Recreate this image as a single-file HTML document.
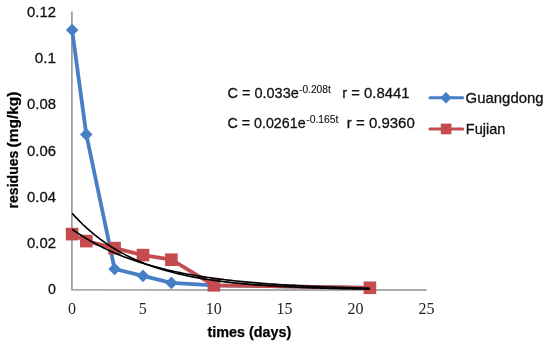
<!DOCTYPE html>
<html><head><meta charset="utf-8"><title>Residues chart</title>
<style>html,body{margin:0;padding:0;background:#fff}svg{display:block}text{font-family:"Liberation Sans","DejaVu Sans",sans-serif;fill:#111;stroke:#111;stroke-width:.3px}.ser{font-family:"Liberation Serif","DejaVu Serif",serif;fill:#222;stroke:none}.sup{stroke-width:.12px}.b{font-weight:bold;fill:#000;stroke:#000;stroke-width:.25px}</style></head><body>
<svg width="550" height="346" viewBox="0 0 550 346">
<rect width="550" height="346" fill="#fff"/>
<polyline points="71.9,11.5 71.9,289.7 426.6,290.05" fill="none" stroke="#8e8e8e" stroke-width="1.5" stroke-linejoin="round"/>
<polyline points="72.1,30.0 86.3,134.4 114.6,269.0 143.0,275.9 171.4,282.9 213.9,285.3 369.9,287.8" fill="none" stroke="#477fc4" stroke-width="3.8" stroke-linejoin="round" stroke-linecap="round"/>
<polygon points="72.1,23.7 78.4,30.0 72.1,36.3 65.8,30.0" fill="#477fc4"/>
<polygon points="86.3,128.1 92.6,134.4 86.3,140.7 80.0,134.4" fill="#477fc4"/>
<polygon points="114.6,262.7 120.9,269.0 114.6,275.3 108.3,269.0" fill="#477fc4"/>
<polygon points="143.0,269.6 149.3,275.9 143.0,282.2 136.7,275.9" fill="#477fc4"/>
<polygon points="171.4,276.6 177.7,282.9 171.4,289.2 165.1,282.9" fill="#477fc4"/>
<polygon points="213.9,279.0 220.2,285.3 213.9,291.6 207.6,285.3" fill="#477fc4"/>
<polygon points="369.9,281.5 376.2,287.8 369.9,294.1 363.6,287.8" fill="#477fc4"/>
<polyline points="72.1,234.1 86.3,241.1 114.6,248.1 143.0,255.1 171.4,259.7 213.9,285.3 369.9,287.8" fill="none" stroke="#c54c4e" stroke-width="3.8" stroke-linejoin="round" stroke-linecap="round"/>
<rect x="65.8" y="227.8" width="12.6" height="12.6" fill="#c54c4e"/>
<rect x="80.0" y="234.8" width="12.6" height="12.6" fill="#c54c4e"/>
<rect x="108.3" y="241.8" width="12.6" height="12.6" fill="#c54c4e"/>
<rect x="136.7" y="248.8" width="12.6" height="12.6" fill="#c54c4e"/>
<rect x="165.1" y="253.4" width="12.6" height="12.6" fill="#c54c4e"/>
<rect x="207.6" y="279.0" width="12.6" height="12.6" fill="#c54c4e"/>
<rect x="363.6" y="281.5" width="12.6" height="12.6" fill="#c54c4e"/>
<polyline points="72.1,213.24 74.9,216.36 77.8,219.36 80.6,222.23 83.4,224.99 86.3,227.63 89.1,230.17 92.0,232.60 94.8,234.94 97.6,237.17 100.5,239.32 103.3,241.38 106.1,243.36 109.0,245.26 111.8,247.08 114.6,248.82 117.5,250.50 120.3,252.10 123.1,253.64 126.0,255.12 128.8,256.54 131.7,257.90 134.5,259.20 137.3,260.46 140.2,261.66 143.0,262.81 145.8,263.91 148.7,264.98 151.5,265.99 154.3,266.97 157.2,267.91 160.0,268.80 162.9,269.67 165.7,270.49 168.5,271.29 171.4,272.05 174.2,272.78 177.0,273.48 179.9,274.15 182.7,274.79 185.5,275.41 188.4,276.01 191.2,276.58 194.0,277.12 196.9,277.65 199.7,278.15 202.6,278.63 205.4,279.10 208.2,279.54 211.1,279.97 213.9,280.38 216.7,280.77 219.6,281.14 222.4,281.51 225.2,281.85 228.1,282.19 230.9,282.50 233.8,282.81 236.6,283.11 239.4,283.39 242.3,283.66 245.1,283.92 247.9,284.17 250.8,284.41 253.6,284.64 256.4,284.86 259.3,285.07 262.1,285.27 264.9,285.47 267.8,285.65 270.6,285.83 273.5,286.01 276.3,286.17 279.1,286.33 282.0,286.48 284.8,286.63 287.6,286.77 290.5,286.90 293.3,287.03 296.1,287.16 299.0,287.28 301.8,287.39 304.7,287.50 307.5,287.61 310.3,287.71 313.2,287.81 316.0,287.90 318.8,287.99 321.7,288.08 324.5,288.16 327.3,288.24 330.2,288.32 333.0,288.39 335.8,288.46 338.7,288.53 341.5,288.59 344.4,288.66 347.2,288.72 350.0,288.78 352.9,288.83 355.7,288.89 358.5,288.94 361.4,288.99 364.2,289.03 367.0,289.08 369.9,289.12" fill="none" stroke="#000" stroke-width="1.65"/>
<polyline points="72.1,229.25 74.9,231.22 77.8,233.12 80.6,234.96 83.4,236.75 86.3,238.47 89.1,240.14 92.0,241.76 94.8,243.32 97.6,244.83 100.5,246.30 103.3,247.71 106.1,249.08 109.0,250.41 111.8,251.69 114.6,252.93 117.5,254.13 120.3,255.29 123.1,256.42 126.0,257.51 128.8,258.56 131.7,259.58 134.5,260.56 137.3,261.52 140.2,262.44 143.0,263.33 145.8,264.20 148.7,265.03 151.5,265.84 154.3,266.63 157.2,267.38 160.0,268.12 162.9,268.83 165.7,269.51 168.5,270.18 171.4,270.82 174.2,271.44 177.0,272.04 179.9,272.63 182.7,273.19 185.5,273.74 188.4,274.26 191.2,274.78 194.0,275.27 196.9,275.75 199.7,276.21 202.6,276.66 205.4,277.09 208.2,277.51 211.1,277.92 213.9,278.31 216.7,278.69 219.6,279.06 222.4,279.42 225.2,279.76 228.1,280.09 230.9,280.42 233.8,280.73 236.6,281.03 239.4,281.32 242.3,281.61 245.1,281.88 247.9,282.15 250.8,282.40 253.6,282.65 256.4,282.89 259.3,283.13 262.1,283.35 264.9,283.57 267.8,283.78 270.6,283.99 273.5,284.18 276.3,284.38 279.1,284.56 282.0,284.74 284.8,284.91 287.6,285.08 290.5,285.24 293.3,285.40 296.1,285.56 299.0,285.70 301.8,285.85 304.7,285.98 307.5,286.12 310.3,286.25 313.2,286.37 316.0,286.50 318.8,286.61 321.7,286.73 324.5,286.84 327.3,286.95 330.2,287.05 333.0,287.15 335.8,287.25 338.7,287.34 341.5,287.43 344.4,287.52 347.2,287.61 350.0,287.69 352.9,287.77 355.7,287.85 358.5,287.92 361.4,287.99 364.2,288.07 367.0,288.13 369.9,288.20" fill="none" stroke="#000" stroke-width="1.65"/>
<text x="48.1" y="294.3" font-size="15.3" textLength="7.9" lengthAdjust="spacingAndGlyphs">0</text>
<text x="27.1" y="248.1" font-size="15.3" textLength="28.9" lengthAdjust="spacingAndGlyphs">0.02</text>
<text x="27.1" y="201.9" font-size="15.3" textLength="28.9" lengthAdjust="spacingAndGlyphs">0.04</text>
<text x="27.1" y="155.6" font-size="15.3" textLength="28.9" lengthAdjust="spacingAndGlyphs">0.06</text>
<text x="27.1" y="109.4" font-size="15.3" textLength="28.9" lengthAdjust="spacingAndGlyphs">0.08</text>
<text x="34.8" y="63.2" font-size="15.3" textLength="21.2" lengthAdjust="spacingAndGlyphs">0.1</text>
<text x="27.1" y="17.0" font-size="15.3" textLength="28.9" lengthAdjust="spacingAndGlyphs">0.12</text>
<text class="ser" x="67.9" y="313.9" font-size="17" textLength="8.0" lengthAdjust="spacingAndGlyphs">0</text>
<text class="ser" x="138.8" y="313.9" font-size="17" textLength="8.0" lengthAdjust="spacingAndGlyphs">5</text>
<text class="ser" x="205.7" y="313.9" font-size="17" textLength="16.0" lengthAdjust="spacingAndGlyphs">10</text>
<text class="ser" x="276.6" y="313.9" font-size="17" textLength="16.0" lengthAdjust="spacingAndGlyphs">15</text>
<text class="ser" x="347.5" y="313.9" font-size="17" textLength="16.0" lengthAdjust="spacingAndGlyphs">20</text>
<text class="ser" x="418.4" y="313.9" font-size="17" textLength="16.0" lengthAdjust="spacingAndGlyphs">25</text>
<text class="b" x="207.5" y="336.5" font-size="14.2" textLength="83.8" lengthAdjust="spacingAndGlyphs">times (days)</text>
<g transform="translate(17.7,208.4) rotate(-90)"><text class="b" x="0.0" y="0.0" font-size="14.2" textLength="57.7" lengthAdjust="spacingAndGlyphs">residues</text><text class="b" x="60.9" y="0.0" font-size="14.6" textLength="56.0" lengthAdjust="spacingAndGlyphs">(mg/kg)</text></g>
<text x="227.5" y="97.9" font-size="15.3" textLength="71.3" lengthAdjust="spacingAndGlyphs">C = 0.033e</text>
<text class="sup" x="299.0" y="93.2" font-size="10.2" textLength="31.8" lengthAdjust="spacingAndGlyphs">-0.208t</text>
<text x="342.3" y="97.9" font-size="15.3" textLength="67.1" lengthAdjust="spacingAndGlyphs">r = 0.8441</text>
<text x="227.5" y="127.9" font-size="15.3" textLength="78.1" lengthAdjust="spacingAndGlyphs">C = 0.0261e</text>
<text class="sup" x="306.2" y="123.2" font-size="10.2" textLength="32.2" lengthAdjust="spacingAndGlyphs">-0.165t</text>
<text x="346.8" y="127.9" font-size="15.3" textLength="68.0" lengthAdjust="spacingAndGlyphs">r = 0.9360</text>
<line x1="430" y1="97.7" x2="462.7" y2="97.7" stroke="#477fc4" stroke-width="3" stroke-linecap="round"/>
<polygon points="446,92 451.7,97.7 446,103.4 440.3,97.7" fill="#477fc4"/>
<text x="465.6" y="102.8" font-size="15.3" textLength="78.0" lengthAdjust="spacingAndGlyphs">Guangdong</text>
<line x1="430" y1="128.9" x2="462.7" y2="128.9" stroke="#c54c4e" stroke-width="3" stroke-linecap="round"/>
<rect x="440.8" y="123.6" width="10.6" height="10.7" fill="#c54c4e"/>
<text x="465.8" y="133.9" font-size="15.3" textLength="39.5" lengthAdjust="spacingAndGlyphs">Fujian</text>
</svg>
</body></html>
